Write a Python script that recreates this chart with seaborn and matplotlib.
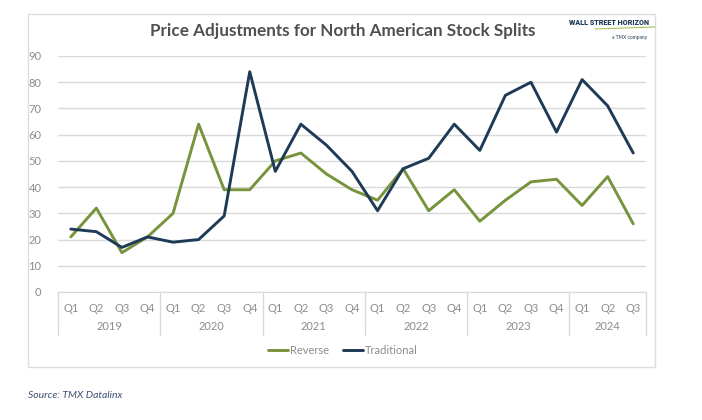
import numpy as np
import pandas as pd
import matplotlib
matplotlib.use("Agg")
import matplotlib.pyplot as plt
import matplotlib.transforms as mtransforms
from matplotlib.lines import Line2D
from matplotlib.patches import Rectangle
import seaborn as sns

years = ["2019", "2020", "2021", "2022", "2023", "2024"]
quarters = ["Q1", "Q2", "Q3", "Q4"] * 5 + ["Q1", "Q2", "Q3"]
reverse = [21, 32, 15, 21, 30, 64, 39, 39, 50, 53, 45, 39,
           35, 47, 31, 39, 27, 35, 42, 43, 33, 44, 26]
traditional = [24, 23, 17, 21, 19, 20, 29, 84, 46, 64, 56, 46,
               31, 47, 51, 64, 54, 75, 80, 61, 81, 71, 53]
yticks = [0, 10, 20, 30, 40, 50, 60, 70, 80, 90]

GREEN = "#77933C"
NAVY = "#1F3A57"
GRID = "#D9D9D9"
TXT = "#8C8C8C"

sns.set_style("white")
plt.rcParams["font.family"] = ["Lato", "DejaVu Sans"]

n = len(quarters)
df = pd.DataFrame({
    "idx": list(range(n)) * 2,
    "value": reverse + traditional,
    "Series": ["Reverse"] * n + ["Traditional"] * n,
})

fig = plt.figure(figsize=(7.02, 4.20), dpi=100)
fig.patch.set_facecolor("white")

# chart frame
fig.patches.append(Rectangle((28 / 702, 1 - 367 / 420), (655 - 28) / 702, (367 - 14) / 420,
                             transform=fig.transFigure, fill=False, edgecolor="#DDDDDD",
                             linewidth=1.0))

ax = fig.add_axes([58 / 702, 1 - 292 / 420, (646 - 58) / 702, (292 - 56) / 420])
sns.lineplot(data=df, x="idx", y="value", hue="Series",
             palette={"Reverse": GREEN, "Traditional": NAVY},
             linewidth=2.1, ax=ax, legend=False)

ax.set_xlim(-0.5, n - 0.5)
ax.set_ylim(0, 90)
ax.set_yticks(yticks)
ax.yaxis.grid(True, color=GRID, linewidth=1.0)
ax.set_axisbelow(True)
for s in ["top", "right", "left"]:
    ax.spines[s].set_visible(False)
ax.spines["bottom"].set_color(GRID)
ax.tick_params(axis="y", length=0, pad=12, labelcolor=TXT, labelsize=8)
ax.set_xticks(range(n))
ax.set_xticklabels(quarters)
ax.tick_params(axis="x", length=0, pad=8, labelcolor=TXT, labelsize=8)
ax.set_xlabel("")
ax.set_ylabel("")

# year groups and separators
trans = mtransforms.blended_transform_factory(ax.transData, ax.transAxes)
bounds = [-0.5, 3.5, 7.5, 11.5, 15.5, 19.5, n - 0.5]
for b in bounds:
    ax.add_line(Line2D([b, b], [0, -43 / 236], transform=trans, color=GRID,
                       linewidth=1.0, clip_on=False))
for i, y in enumerate(years):
    ax.text((bounds[i] + bounds[i + 1]) / 2, -35 / 236, y, transform=trans,
            ha="center", va="center", color=TXT, fontsize=8)

# legend
handles = [Line2D([], [], color=GREEN, linewidth=2.1),
           Line2D([], [], color=NAVY, linewidth=2.1)]
leg = fig.legend(handles, ["Reverse", "Traditional"], loc="center",
                 bbox_to_anchor=(343 / 702, 1 - 350 / 420), ncol=2, frameon=False,
                 fontsize=8, handlelength=1.8, handletextpad=0.2, columnspacing=1.2)
for t in leg.get_texts():
    t.set_color(TXT)

# title
fig.text(343 / 702, 1 - 31 / 420, "Price Adjustments for North American Stock Splits",
         ha="center", va="center", fontsize=12.3, fontweight="bold", color="#505050")

# logo
fig.text(609 / 702, 1 - 23 / 420, "WALL STREET HORIZON", ha="center", va="center",
         fontsize=5.2, fontweight="heavy", color=NAVY, fontstretch="condensed",
         family=["Roboto", "DejaVu Sans"])
fig.add_artist(Line2D([595 / 702, 655 / 702], [1 - 29 / 420, 1 - 27 / 420],
                      color="#A7C45A", linewidth=0.8))
fig.text(630 / 702, 1 - 38 / 420, "a TMX company", ha="center", va="center",
         fontsize=3.5, color=NAVY)

# source
fig.text(28 / 702, 1 - 395 / 420, "Source: TMX Datalinx", ha="left", va="center",
         fontsize=7.5, style="italic", color="#3E4F70")

fig.savefig("out.png", dpi=100, facecolor="white")
